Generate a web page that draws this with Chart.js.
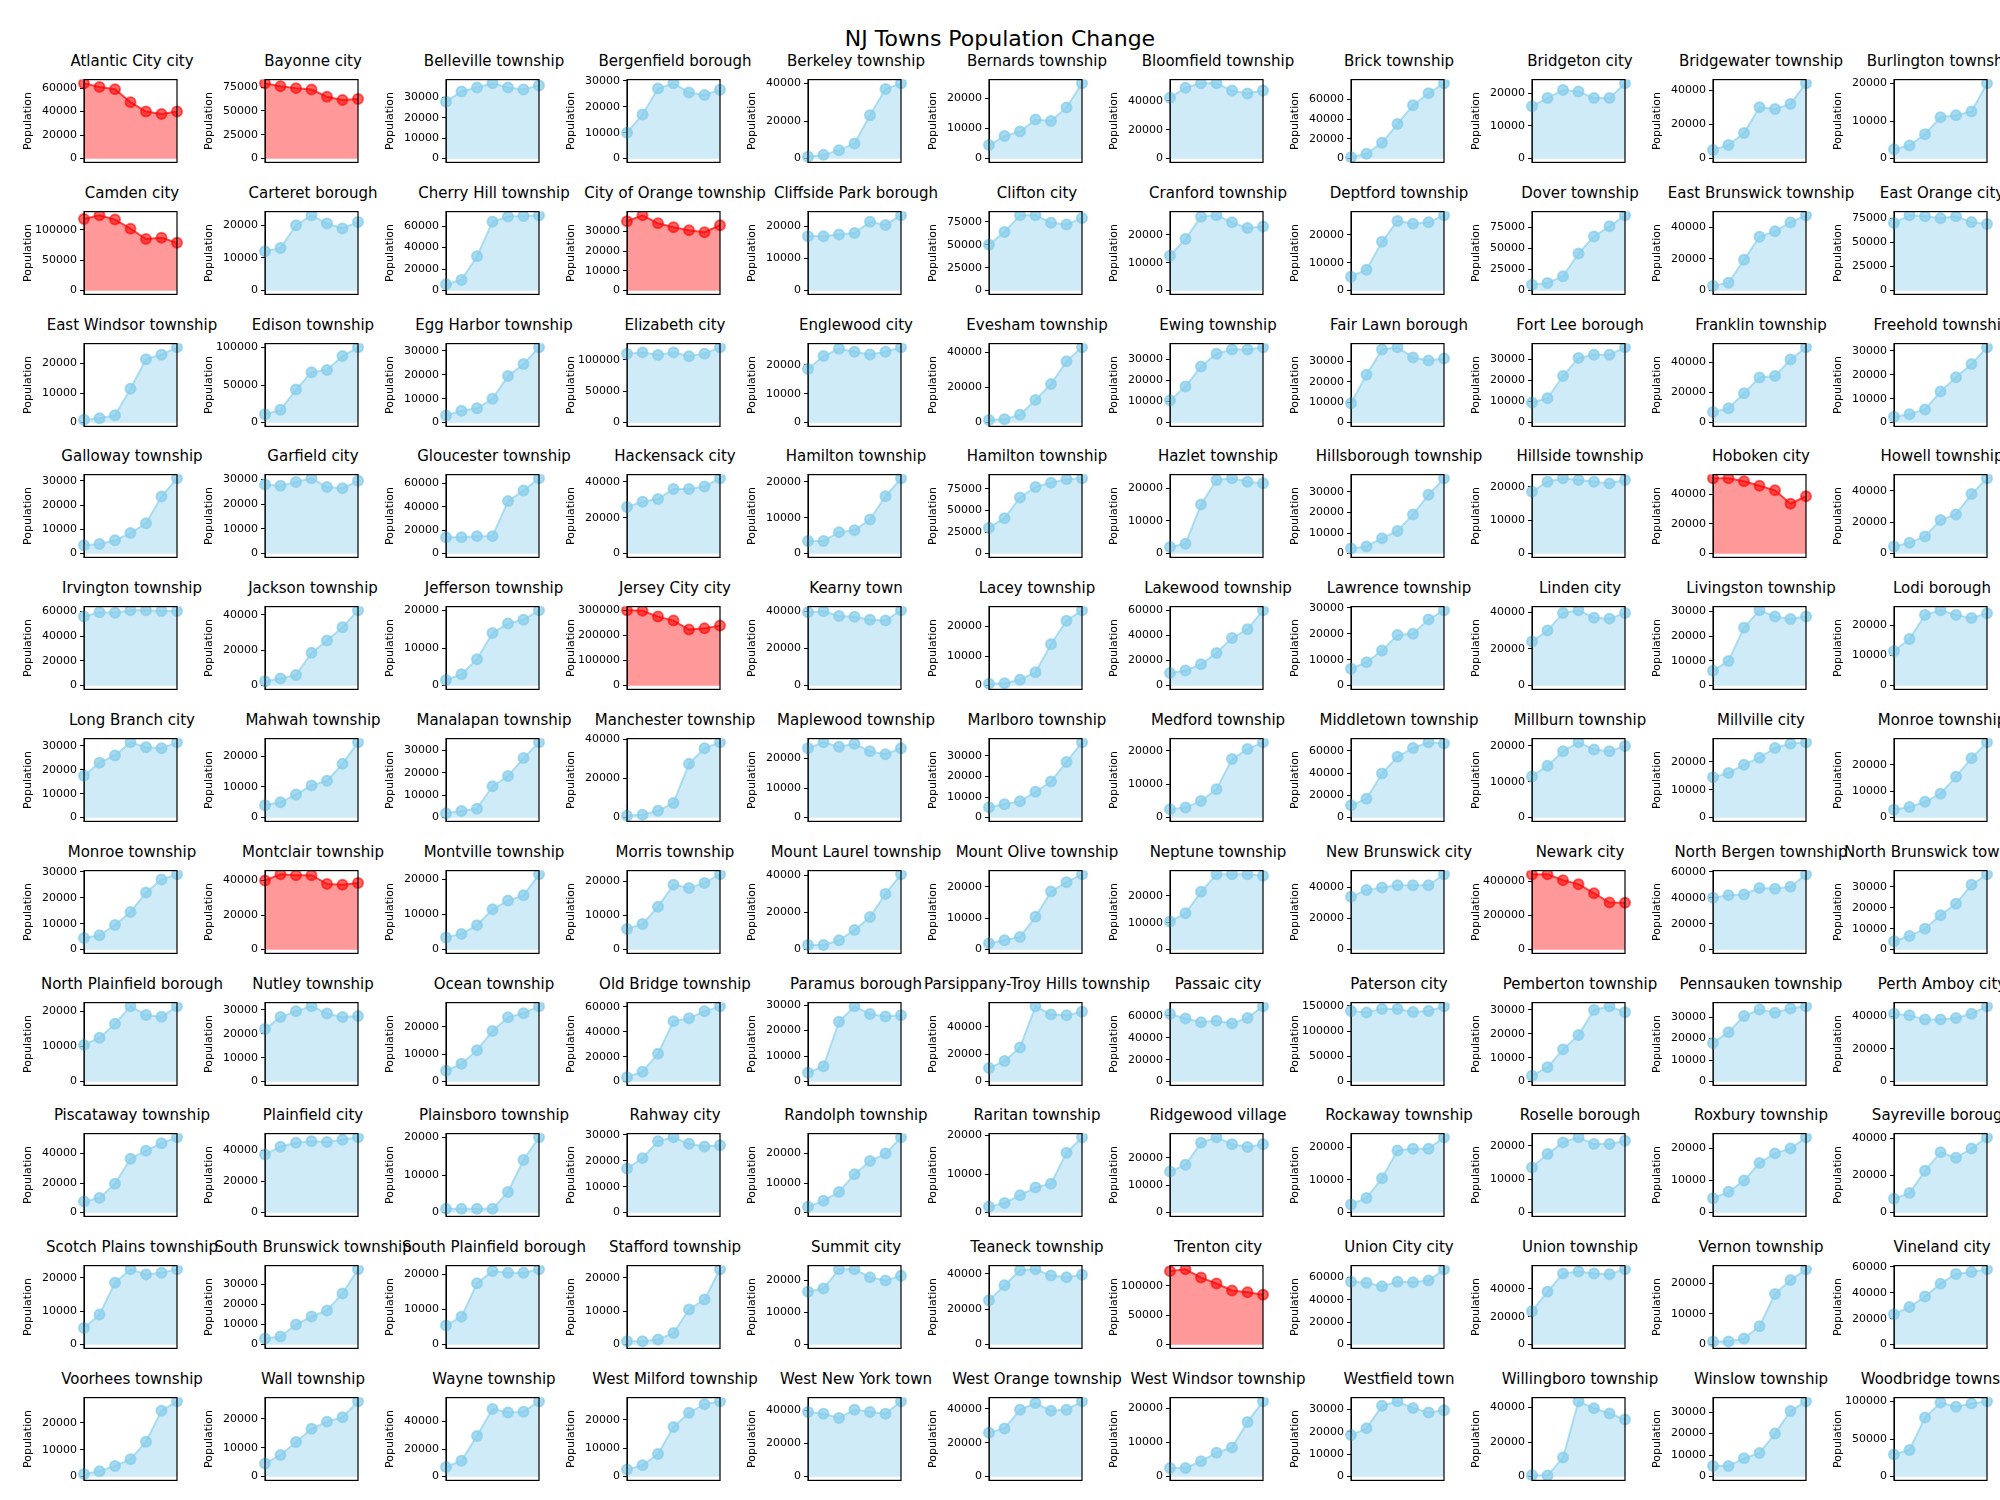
<!DOCTYPE html>
<html lang="en">
<head>
<meta charset="UTF-8">
<title>NJ Towns Population Change</title>
<script src="https://cdn.jsdelivr.net/npm/chart.js"></script>
<style>
    body { margin: 0; background: #fff; font-family: 'DejaVu Sans', sans-serif; }
    #page { position: relative; width: 2000px; height: 1500px; overflow: hidden; }
    #title { position: absolute; top: 26px; left: 0; width: 2000px; text-align: center; font-size: 22px; color: #000; }
    .cell { position: absolute; }
    .ttl { position: absolute; text-align: center; font-size: 15px; color: #000; white-space: nowrap; }
</style>
</head>
<body>
<div id="page">
    <div id="title">NJ Towns Population Change</div>
</div>
<script>
// Census points (x axis is hidden in the original)
const years = ['1950', '1960', '1970', '1980', '1990', '2000', '2010'];

const towns = [
    'Atlantic City city', 'Bayonne city', 'Belleville township', 'Bergenfield borough', 'Berkeley township', 'Bernards township', 'Bloomfield township', 'Brick township', 'Bridgeton city', 'Bridgewater township', 'Burlington township',
    'Camden city', 'Carteret borough', 'Cherry Hill township', 'City of Orange township', 'Cliffside Park borough', 'Clifton city', 'Cranford township', 'Deptford township', 'Dover township', 'East Brunswick township', 'East Orange city',
    'East Windsor township', 'Edison township', 'Egg Harbor township', 'Elizabeth city', 'Englewood city', 'Evesham township', 'Ewing township', 'Fair Lawn borough', 'Fort Lee borough', 'Franklin township', 'Freehold township',
    'Galloway township', 'Garfield city', 'Gloucester township', 'Hackensack city', 'Hamilton township', 'Hamilton township', 'Hazlet township', 'Hillsborough township', 'Hillside township', 'Hoboken city', 'Howell township',
    'Irvington township', 'Jackson township', 'Jefferson township', 'Jersey City city', 'Kearny town', 'Lacey township', 'Lakewood township', 'Lawrence township', 'Linden city', 'Livingston township', 'Lodi borough',
    'Long Branch city', 'Mahwah township', 'Manalapan township', 'Manchester township', 'Maplewood township', 'Marlboro township', 'Medford township', 'Middletown township', 'Millburn township', 'Millville city', 'Monroe township',
    'Monroe township', 'Montclair township', 'Montville township', 'Morris township', 'Mount Laurel township', 'Mount Olive township', 'Neptune township', 'New Brunswick city', 'Newark city', 'North Bergen township', 'North Brunswick township',
    'North Plainfield borough', 'Nutley township', 'Ocean township', 'Old Bridge township', 'Paramus borough', 'Parsippany-Troy Hills township', 'Passaic city', 'Paterson city', 'Pemberton township', 'Pennsauken township', 'Perth Amboy city',
    'Piscataway township', 'Plainfield city', 'Plainsboro township', 'Rahway city', 'Randolph township', 'Raritan township', 'Ridgewood village', 'Rockaway township', 'Roselle borough', 'Roxbury township', 'Sayreville borough',
    'Scotch Plains township', 'South Brunswick township', 'South Plainfield borough', 'Stafford township', 'Summit city', 'Teaneck township', 'Trenton city', 'Union City city', 'Union township', 'Vernon township', 'Vineland city',
    'Voorhees township', 'Wall township', 'Wayne township', 'West Milford township', 'West New York town', 'West Orange township', 'West Windsor township', 'Westfield town', 'Willingboro township', 'Winslow township', 'Woodbridge township'
];

const populations = [
    [64000, 61000, 59000, 48000, 40000, 38000, 40000],
    [79000, 76000, 74000, 72500, 65000, 61500, 62500],
    [28000, 33000, 35000, 37000, 35000, 34000, 36000],
    [10000, 17000, 27000, 29000, 25500, 24500, 26500],
    [1000, 2000, 4500, 8000, 23000, 37000, 40000],
    [4500, 7500, 9000, 13000, 12500, 17000, 25000],
    [42000, 49000, 52000, 52000, 47000, 45000, 47000],
    [1500, 5000, 16000, 35000, 54000, 66000, 76000],
    [16000, 18500, 21000, 20500, 18500, 18500, 23000],
    [5000, 8000, 15000, 30000, 29000, 32000, 44000],
    [2500, 3500, 6500, 11000, 11500, 12500, 20000],

    [118000, 124000, 117000, 102000, 85000, 87000, 79000],
    [12000, 13000, 20000, 23000, 20500, 19000, 21000],
    [6000, 10000, 32000, 64000, 69000, 69500, 70000],
    [35000, 38000, 34000, 32000, 30500, 29500, 33000],
    [17000, 17000, 17500, 18000, 21500, 20500, 23500],
    [50000, 64000, 82000, 82000, 74000, 72000, 79000],
    [12500, 18500, 26500, 27000, 24500, 22500, 23000],
    [5000, 7500, 17500, 25000, 24000, 24500, 27000],
    [7000, 9000, 17000, 44000, 64000, 76000, 89000],
    [3000, 5000, 19500, 34000, 37500, 43000, 47500],
    [70000, 78000, 77000, 75000, 77000, 71000, 69000],

    [1000, 1500, 2500, 11500, 21500, 23000, 25500],
    [11000, 17000, 44000, 67000, 70000, 88500, 100000],
    [3000, 5000, 6000, 10000, 19500, 24500, 31500],
    [110000, 112000, 108000, 112000, 106000, 110000, 120000],
    [18500, 23000, 25500, 24500, 23500, 24500, 26000],
    [1500, 2000, 4500, 13000, 22000, 35000, 43000],
    [10500, 17000, 26500, 32500, 34500, 34500, 35500],
    [9500, 23500, 36000, 37000, 32000, 30500, 31500],
    [9500, 11500, 22000, 30500, 32000, 32000, 35500],
    [7000, 9500, 19500, 30000, 31000, 42000, 50000],
    [2500, 3500, 5500, 13000, 19000, 24500, 31500],

    [3500, 4000, 5500, 8500, 12500, 23500, 31000],
    [28000, 27500, 29000, 30500, 27000, 26500, 29500],
    [14000, 14000, 15000, 15000, 45000, 54000, 64500],
    [26000, 29000, 30500, 36000, 36000, 37500, 42000],
    [3500, 3500, 6000, 6500, 9500, 16000, 21000],
    [30000, 41000, 65000, 77000, 82000, 86000, 87000],
    [2000, 3000, 15000, 22500, 23000, 22000, 21500],
    [2500, 3500, 7500, 11000, 19000, 28500, 36500],
    [18500, 21500, 22500, 22000, 21500, 21000, 22000],
    [50500, 50500, 48500, 45500, 42500, 33500, 38500],
    [4500, 7000, 11000, 21500, 25000, 38000, 48000],

    [56000, 59500, 59000, 61000, 61000, 60500, 60500],
    [2500, 4000, 6000, 18500, 25500, 33000, 42500],
    [1500, 3000, 7000, 14000, 16500, 17500, 20000],
    [301000, 299000, 276000, 260000, 224000, 229000, 240000],
    [39500, 40000, 37500, 37000, 35500, 35000, 40500],
    [600, 800, 2000, 4500, 14000, 22000, 25500],
    [10000, 12000, 17000, 26000, 38000, 45000, 60000],
    [6500, 9000, 13500, 19500, 20000, 25500, 29000],
    [24000, 30000, 39500, 41000, 37000, 36500, 39500],
    [6000, 10000, 23500, 30500, 28000, 27000, 28000],
    [11500, 15500, 23500, 25000, 23500, 22500, 24000],

    [17500, 23000, 26000, 31500, 29500, 29000, 31500],
    [4000, 5000, 7500, 10500, 12000, 17500, 24500],
    [2000, 3000, 4000, 14000, 18500, 26500, 33500],
    [1000, 1500, 3500, 7500, 27500, 35500, 38500],
    [23500, 25500, 24000, 25000, 22500, 21500, 23500],
    [5000, 6500, 8000, 12500, 17500, 27000, 36500],
    [2500, 3000, 5000, 8500, 17500, 20500, 22500],
    [11000, 17000, 39500, 54500, 62500, 67500, 66500],
    [11500, 14500, 18500, 21000, 19000, 18500, 20000],
    [14500, 16000, 19000, 21500, 25000, 26500, 27000],
    [3000, 4000, 6000, 9000, 15500, 22500, 28500],

    [4500, 5500, 9500, 14500, 22000, 27000, 29000],
    [40000, 43500, 43000, 43000, 38000, 37500, 38500],
    [3500, 4500, 7000, 11500, 14000, 15500, 21500],
    [6000, 7500, 12500, 19000, 18000, 19500, 22000],
    [2500, 2500, 5000, 10500, 17500, 30000, 40500],
    [2000, 3000, 4000, 10500, 18500, 21500, 24000],
    [10500, 13500, 21500, 28000, 28000, 28000, 27500],
    [34000, 38500, 40000, 41500, 41500, 41500, 48500],
    [438000, 439000, 405000, 382000, 329000, 275000, 273000],
    [40000, 42000, 42500, 47500, 47000, 48500, 58000],
    [4000, 6500, 10000, 16500, 22000, 31000, 36000],

    [10500, 12500, 16500, 21500, 19000, 18500, 21500],
    [22000, 27000, 29500, 31500, 28500, 27000, 27500],
    [4000, 6500, 11500, 18500, 23500, 25000, 27500],
    [3500, 8000, 22500, 48500, 51000, 56500, 60500],
    [3500, 6000, 23500, 29500, 26500, 25500, 26000],
    [10000, 15000, 25000, 55000, 49000, 48500, 51000],
    [61500, 57500, 54000, 55500, 53000, 58000, 68500],
    [140000, 137000, 144000, 144000, 138000, 140000, 149000],
    [2500, 6000, 13500, 19500, 30000, 31500, 29000],
    [18000, 23000, 30500, 33500, 32000, 34000, 35000],
    [41500, 40500, 38000, 38000, 38900, 41500, 46000],

    [7500, 10000, 19500, 36500, 42000, 47000, 51000],
    [37500, 42500, 45000, 46000, 45500, 47000, 48500],
    [1000, 1000, 1000, 1000, 5500, 14000, 20000],
    [17000, 21000, 27500, 29000, 26500, 25500, 26000],
    [2000, 4000, 7000, 13000, 17500, 20000, 25500],
    [1500, 2500, 4500, 6500, 7500, 15500, 19500],
    [15000, 17500, 25500, 27500, 25000, 24000, 25000],
    [2500, 4500, 10500, 19000, 19500, 19500, 23000],
    [13500, 17500, 21000, 22500, 20500, 20500, 21500],
    [4500, 6500, 10000, 15500, 18500, 20000, 23500],
    [7500, 10500, 22500, 32500, 29500, 34500, 40500],

    [5000, 9000, 18500, 22500, 21000, 21500, 22500],
    [3000, 4000, 10000, 14000, 17000, 25500, 37500],
    [5500, 8000, 17500, 21000, 20500, 20500, 21500],
    [1000, 1000, 1500, 3500, 10500, 13500, 22500],
    [16500, 17500, 23500, 23500, 21000, 20000, 21500],
    [25000, 33500, 42000, 42500, 39000, 38000, 39500],
    [125000, 128000, 114000, 104000, 92000, 89000, 85000],
    [56000, 55000, 52000, 56000, 55500, 57000, 67000],
    [24000, 38000, 51000, 52500, 51000, 50500, 54000],
    [1000, 1000, 2000, 6000, 16500, 21000, 24500],
    [23500, 29000, 37000, 47000, 54500, 56000, 58000],

    [1000, 2000, 4000, 6500, 13000, 24500, 28000],
    [4500, 7500, 12000, 16500, 19000, 20500, 26000],
    [7000, 11500, 29500, 49000, 46500, 47000, 54500],
    [2500, 4000, 8000, 17500, 22500, 25500, 26500],
    [39000, 38000, 35500, 40500, 39000, 38000, 45500],
    [26000, 28500, 39500, 43500, 39000, 39500, 44500],
    [2500, 2500, 4500, 7000, 8500, 16000, 22000],
    [18500, 21500, 31500, 33500, 30500, 28500, 29500],
    [800, 600, 11000, 43500, 39500, 36500, 33000],
    [5000, 5000, 8500, 11000, 20000, 30500, 35000],
    [29500, 35500, 78500, 98500, 93000, 97000, 100000]
];

// Towns drawn in red
const declining = ['Atlantic City city', 'Bayonne city', 'Camden city', 'City of Orange township', 'Hoboken city',
    'Jersey City city', 'Montclair township', 'Newark city', 'Trenton city'];

const COLS = 11;
const AX_LEFT = 84, COL_STEP = 181, AX_W = 96;
const AX_TOP = 74, ROW_STEP = 131.8, AX_H = 94;
const Y_AXIS_W = 62, PAD = 4;

// choose a "nice" step giving at most 3 ticks above zero
function niceStep(top) {
    let mag = Math.pow(10, Math.floor(Math.log10(top)) - 1);
    while (true) {
        for (const m of [1, 2, 2.5, 5]) {
            const s = m * mag;
            if (Math.floor(top / s) <= 3) return s;
        }
        mag *= 10;
    }
}

const frame = {
    id: 'frame',
    afterDraw(chart) {
        const a = chart.chartArea, c = chart.ctx;
        c.save();
        c.strokeStyle = '#000';
        c.lineWidth = 1.2;
        c.strokeRect(a.left, a.top, a.right - a.left, a.bottom - a.top);
        c.restore();
    }
};

const page = document.getElementById('page');

towns.forEach((name, i) => {
    const col = i % COLS, row = Math.floor(i / COLS);
    const axLeft = AX_LEFT + col * COL_STEP;
    const axTop = AX_TOP + row * ROW_STEP;
    const vals = populations[i];
    const red = declining.includes(name);
    const line = red ? 'rgba(255,0,0,0.7)' : 'rgba(135,206,235,0.65)';
    const fill = red ? 'rgba(255,0,0,0.4)' : 'rgba(135,206,235,0.4)';
    const pt = red ? 'rgba(255,0,0,0.6)' : 'rgba(135,206,235,0.75)';

    const ttl = document.createElement('div');
    ttl.className = 'ttl';
    ttl.textContent = name;
    ttl.style.left = (axLeft + AX_W / 2 - 150) + 'px';
    ttl.style.width = '300px';
    ttl.style.top = (axTop - 22) + 'px';
    page.appendChild(ttl);

    const cell = document.createElement('div');
    cell.className = 'cell';
    const w = Y_AXIS_W + AX_W + PAD, h = AX_H + 2 * PAD;
    cell.style.left = (axLeft - Y_AXIS_W) + 'px';
    cell.style.top = (axTop - PAD) + 'px';
    cell.style.width = w + 'px';
    cell.style.height = h + 'px';
    const cv = document.createElement('canvas');
    cell.appendChild(cv);
    page.appendChild(cell);

    const top = Math.max(...vals);
    const step = niceStep(top * 1.05);

    new Chart(cv, {
        type: 'line',
        data: {
            labels: years,
            datasets: [{
                data: vals,
                borderColor: line,
                backgroundColor: fill,
                fill: 'origin',
                borderWidth: 2,
                tension: 0,
                pointRadius: 5,
                pointBackgroundColor: pt,
                pointBorderColor: pt
            }]
        },
        options: {
            responsive: true,
            maintainAspectRatio: false,
            animation: false,
            layout: { padding: { top: PAD, bottom: PAD, right: PAD, left: 0 } },
            plugins: { legend: { display: false }, tooltip: { enabled: false } },
            scales: {
                x: { display: false, offset: false },
                y: {
                    min: -0.05 * top,
                    max: 1.05 * top,
                    afterFit(s) { s.width = Y_AXIS_W; },
                    afterBuildTicks(s) {
                        const t = [];
                        for (let v = 0; v <= s.max; v += step) t.push({ value: v });
                        s.ticks = t;
                    },
                    grid: { drawOnChartArea: false, tickLength: 4, color: '#000' },
                    border: { display: true, color: '#000' },
                    ticks: {
                        color: '#000',
                        font: { size: 11, family: 'DejaVu Sans' },
                        padding: 3,
                        callback: v => String(v)
                    },
                    title: {
                        display: true,
                        text: 'Population',
                        color: '#000',
                        font: { size: 11, family: 'DejaVu Sans' },
                        padding: 0
                    }
                }
            }
        },
        plugins: [frame]
    });
});
</script>
</body>
</html>
